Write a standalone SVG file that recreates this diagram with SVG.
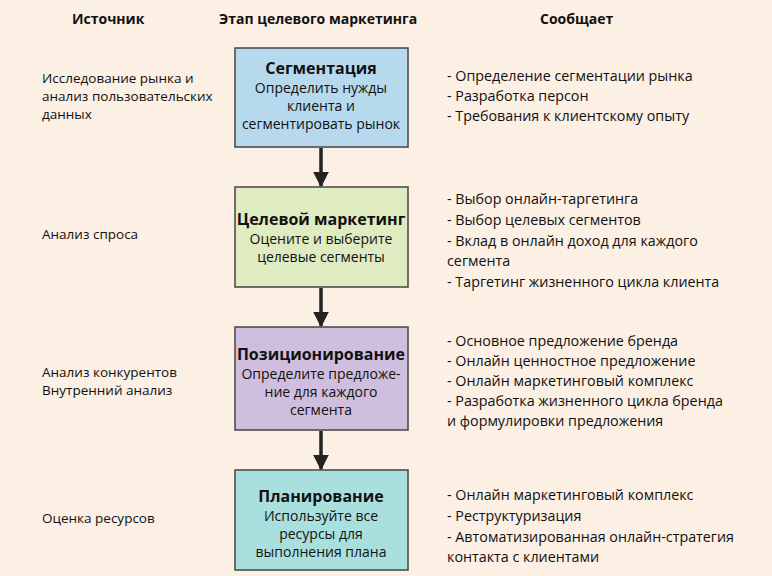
<svg xmlns="http://www.w3.org/2000/svg" width="772" height="576" viewBox="0 0 772 576">
<defs>
<style>
text{font-family:"Open Sans","Noto Sans",sans-serif;fill:#111;font-size:13.5px}
.h{font-weight:bold;font-size:14px}
.t{font-weight:bold;font-size:16px;text-anchor:middle}
.c{text-anchor:middle;font-size:14px}
#out text{font-size:14.3px}
.box{stroke:#444;stroke-width:1.5}
</style>
<marker id="ar" viewBox="0 0 10 10" refX="9" refY="5" markerWidth="4.5" markerHeight="4.5" orient="auto"><path d="M0,0L10,5L0,10z" fill="#222"/></marker>
</defs>
<rect width="772" height="576" fill="#fcefe4"/>
<text class="h" x="72" y="24">Источник</text>
<text class="h" x="219" y="24">Этап целевого маркетинга</text>
<text class="h" x="540" y="24">Сообщает</text>
<g id="connectors" stroke="#222" stroke-width="3.5" marker-end="url(#ar)">
<line x1="321" y1="148" x2="321" y2="186"/>
<line x1="321" y1="288" x2="321" y2="326"/>
<line x1="321" y1="431" x2="321" y2="469"/>
</g>
<g id="n1"><rect class="box" x="235" y="48" width="173" height="99" fill="#b7d9ee"/>
<text class="t" x="321" y="74">Сегментация</text>
<text class="c" x="321" y="93">Определить нужды</text><text class="c" x="321" y="111">клиента и</text><text class="c" x="321" y="129">сегментировать рынок</text></g>
<g id="n2"><rect class="box" x="235" y="187" width="173" height="100" fill="#dfebc0"/>
<text class="t" x="321" y="225">Целевой маркетинг</text>
<text class="c" x="321" y="244">Оцените и выберите</text><text class="c" x="321" y="262">целевые сегменты</text></g>
<g id="n3"><rect class="box" x="235" y="327" width="173" height="103" fill="#cfbedd"/>
<text class="t" x="321" y="360">Позиционирование</text>
<text class="c" x="321" y="379">Определите предложе-</text><text class="c" x="321" y="397">ние для каждого</text><text class="c" x="321" y="415">сегмента</text></g>
<g id="n4"><rect class="box" x="235" y="470" width="173" height="100" fill="#a9e0dd"/>
<text class="t" x="321" y="502">Планирование</text>
<text class="c" x="321" y="521">Используйте все</text><text class="c" x="321" y="539">ресурсы для</text><text class="c" x="321" y="557">выполнения плана</text></g>
<g id="src">
<text x="42" y="83">Исследование рынка и</text><text x="42" y="101">анализ  пользовательских</text><text x="42" y="119">данных</text>
<text x="42" y="239">Анализ спроса</text>
<text x="42" y="377">Анализ конкурентов</text><text x="42" y="395">Внутренний анализ</text>
<text x="42" y="523">Оценка ресурсов</text>
</g>
<g id="out">
<text x="447" y="81">- Определение сегментации рынка</text>
<text x="447" y="101">- Разработка персон</text>
<text x="447" y="121">- Требования к клиентскому опыту</text>
<text x="447" y="204">- Выбор онлайн-таргетинга</text>
<text x="447" y="225">- Выбор целевых сегментов</text>
<text x="447" y="246">- Вклад в онлайн доход для каждого</text>
<text x="447" y="266">сегмента</text>
<text x="447" y="287">- Таргетинг жизненного цикла клиента</text>
<text x="447" y="346">- Основное предложение бренда</text>
<text x="447" y="366">- Онлайн ценностное предложение</text>
<text x="447" y="386">- Онлайн маркетинговый комплекс</text>
<text x="447" y="406">- Разработка жизненного цикла бренда</text>
<text x="447" y="426">и формулировки предложения</text>
<text x="447" y="500">- Онлайн маркетинговый комплекс</text>
<text x="447" y="521">- Реструктуризация</text>
<text x="447" y="542">- Автоматизированная онлайн-стратегия</text>
<text x="447" y="562">контакта с клиентами</text>
</g>
</svg>
